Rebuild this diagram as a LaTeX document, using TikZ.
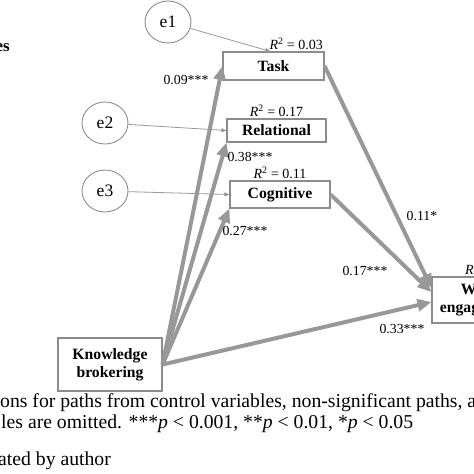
\documentclass[tikz,border=0pt]{standalone}
\usepackage{fontspec}
\setmainfont{Liberation Serif}
\usetikzlibrary{arrows.meta,positioning,shapes.geometric}
\definecolor{pathgrey}{RGB}{152,152,152}
\definecolor{boxgrey}{RGB}{140,140,140}
\newcommand{\rsqtext}[1]{\textit{R}\textsuperscript{2} = #1}
\tikzset{
  varbox/.style={rectangle, draw=boxgrey, line width=1.1bp, fill=white, inner sep=0pt,
                 align=center, font=\fontsize{15.7bp}{18bp}\selectfont\bfseries},
  errnode/.style={ellipse, draw=boxgrey, line width=0.9bp, minimum width=46bp, minimum height=42bp,
                  inner sep=0pt, font=\fontsize{17.5bp}{18bp}\selectfont},
  coef/.style={font=\fontsize{13.8bp}{15bp}\selectfont, inner sep=0pt},
  rsq/.style={font=\fontsize{14bp}{15bp}\selectfont, inner sep=1.5bp},
  bigarr/.style={-{Triangle[length=14bp, width=12bp]}, line width=4bp, draw=pathgrey},
  errarr/.style={-{Triangle[length=5bp, width=4bp]}, line width=0.8bp, draw=pathgrey},
  note/.style={font=\fontsize{19.7bp}{21bp}\selectfont, inner sep=0pt, anchor=base west},
}
\begin{document}
\begin{tikzpicture}[x=1bp, y=-1bp]
  \useasboundingbox (0,0) rectangle (474,474);
  \node[varbox, minimum width=101bp, minimum height=28bp] (task) at (273.5,66) {Task};
  \node[varbox, minimum width=99bp, minimum height=23bp] (rel) at (276.5,130.5) {Relational};
  \node[varbox, minimum width=100bp, minimum height=27bp] (cog) at (280,194.5) {Cognitive};
  \node[varbox, minimum width=104bp, minimum height=53bp] (kb) at (110,364.5) {Knowledge\\brokering};
  \node[varbox, minimum width=96bp, minimum height=46bp] (work) at (480,300) {Work\\engagement};
  \node[errnode] (e1) at (168,22) {e1};
  \node[errnode] (e2) at (105,123) {e2};
  \node[errnode] (e3) at (105,191) {e3};
  \node[rsq, anchor=south east] (r2task) at (task.north east) {\rsqtext{0.03}};
  \node[rsq, above=0pt of rel] (r2rel) {\rsqtext{0.17}};
  \node[rsq, above=0pt of cog] (r2cog) {\rsqtext{0.11}};
  \node[rsq, anchor=base west, inner sep=0pt] (r2work) at (465,274) {\textit{R}\textsuperscript{2}};
  \draw[errarr] (e1) -- ([xshift=-3bp]task.north);
  \draw[errarr] (e2) -- (rel.west);
  \draw[errarr] (e3) -- (cog.west);
  \draw[bigarr] (kb.east) -- (task.west);
  \draw[bigarr] (kb.east) -- (rel.south west);
  \draw[bigarr] (kb.east) -- (cog.south west);
  \draw[bigarr] (kb.east) -- ([yshift=-2bp]work.west);
  \draw[bigarr] (task.east) -- ([yshift=12bp]work.west);
  \draw[bigarr] (cog.east) -- ([yshift=8bp]work.west);
  \node[coef] (c1) at (186,80) {0.09***};
  \node[coef] (c2) at (250,157) {0.38***};
  \node[coef] (c3) at (245,231) {0.27***};
  \node[coef] (c4) at (422,216) {0.11*};
  \node[coef] (c5) at (365,271) {0.17***};
  \node[coef] (c6) at (402,329) {0.33***};
  \node[font=\fontsize{17bp}{18bp}\selectfont\bfseries, inner sep=0pt, anchor=base east] (ttl) at (10,52) {es};
  \node[note] (n1) at (0,407) {ons for paths from control variables, non-significant paths, a};
  \node[note] (n2) at (1,428) {les are omitted. ***\textit{p} < 0.001, **\textit{p} < 0.01, *\textit{p} < 0.05};
  \node[note] (n3) at (-2,465) {ated by author};
\end{tikzpicture}
\end{document}
